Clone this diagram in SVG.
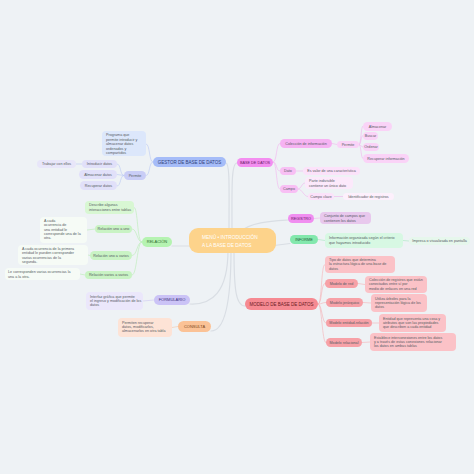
<svg xmlns="http://www.w3.org/2000/svg" width="474" height="474" viewBox="0 0 474 474">
<style>
text{font-family:"Liberation Sans","Open Sans",Arial,sans-serif;}
.m{font-size:4.5px;text-anchor:middle;}
.l{font-size:3.7px;fill:#555b63;}
.c{text-anchor:middle;}
.mc{fill:none;stroke:#d9dee4;stroke-width:1.2;stroke-linecap:round;}
.sc{fill:none;stroke-width:0.6;}
</style>
<rect width="474" height="474" fill="#eef2f5"/>
<g id="connectors">
<path class="mc" d="M229,232 C229,190 230,164 226,163"/>
<path class="mc" d="M232,232 C232,190 231,163 237,163"/>
<path class="mc" d="M240,232 C250,222 272,221 288,220"/>
<path class="mc" d="M270,246 L290,243.5"/>
<path class="mc" d="M234,250 C234,290 236,306 245,306"/>
<path class="mc" d="M195,246 L172,246"/>
<path class="mc" d="M228,250 C228,292 212,305 190,304"/>
<path class="mc" d="M231,250 C231,305 224,331 211,331"/>
<g stroke="#b9c8f3" class="sc">
<path class="sc" d="M153,162 C149,162 150,144 146,144"/>
<path class="sc" d="M153,162 C149,162 150,175.5 146,175.5"/>
<path class="sc" d="M124,175.5 C120,175.5 121,164 117,164"/>
<path class="sc" d="M124,175.5 L117,174.5"/>
<path class="sc" d="M124,175.5 C120,175.5 121,186 117,186"/>
<path class="sc" d="M82,164 L76,164"/>
</g>
<g stroke="#f2b3ef" class="sc">
<path class="sc" d="M273,162 C277,162 276,143.5 280,143.5"/>
<path class="sc" d="M273,162 C277,162 276,171 280,171"/>
<path class="sc" d="M273,162 C277,162 276,189 280,189"/>
<path class="sc" d="M332,143.5 L337,144.5"/>
<path class="sc" d="M359,144.5 C361,144.5 361,126 363,126"/>
<path class="sc" d="M359,144.5 C361,144.5 361,135.5 363,135.5"/>
<path class="sc" d="M359,144.5 C361,144.5 361,147 363,147"/>
<path class="sc" d="M359,144.5 C361,144.5 361,158.5 363,158.5"/>
<path class="sc" d="M296,171 L303,171"/>
<path class="sc" d="M298,189 C301,189 302,183 305,183"/>
<path class="sc" d="M298,189 C302,189 304,196.5 308,196.5"/>
<path class="sc" d="M334,196.5 L343,196.5"/>
<path class="sc" d="M314,218.5 L320,218"/>
</g>
<g stroke="#a6e8c0" class="sc">
<path class="sc" d="M318,239.5 L325,240.5"/>
<path class="sc" d="M403,240.5 L409,241"/>
</g>
<g stroke="#f5b0b5" class="sc">
<path class="sc" d="M318,304 C322,304 321,264.5 325,264.5"/>
<path class="sc" d="M318,304 C322,304 321,283.5 325,283.5"/>
<path class="sc" d="M318,304 C322,304 322,302.5 326,302.5"/>
<path class="sc" d="M318,304 C322,304 322,323 326,323"/>
<path class="sc" d="M318,304 C322,304 322,342.5 326,342.5"/>
<path class="sc" d="M358,283.5 L365,284.5"/>
<path class="sc" d="M363,302.5 L371,303"/>
<path class="sc" d="M372,323 L379,323"/>
<path class="sc" d="M362,342.5 L370,342"/>
</g>
<g stroke="#b9ecb4" class="sc">
<path class="sc" d="M142,242 C137,242 138,207.5 134,207.5"/>
<path class="sc" d="M142,242 C137,242 137,229 132,229"/>
<path class="sc" d="M142,242 C137,242 137,255.5 132,255.5"/>
<path class="sc" d="M142,242 C137,242 137,275 132,275"/>
<path class="sc" d="M95,229 L87,230"/>
<path class="sc" d="M90,255.5 L88,255"/>
<path class="sc" d="M85,275 L80,274"/>
</g>
<path class="sc" stroke="#cfc8f3" d="M154,300 L143,301"/>
<path class="sc" stroke="#f6c6a6" d="M178,326.5 L172,327.5"/>
</g>

<g id="central">
<rect x="189" y="228" width="87" height="25" rx="9" fill="#fdd38b"/>
<text x="202" y="238.5" font-size="4.8" fill="#ffffff">MENÚ • INTRODUCCIÓN</text>
<text x="202" y="246.5" font-size="4.8" fill="#ffffff">A LA BASE DE DATOS</text>
</g>

<g id="gestor">
<rect x="153" y="157" width="73" height="10" rx="5" fill="#a5bcf8"/>
<text class="m" x="189.5" y="163.6" fill="#2f3f7a">GESTOR DE BASE DE DATOS</text>
</g>
<g id="g-programa">
<rect x="102" y="131" width="44" height="25" rx="4" fill="#dce7fb"/>
<text class="l" x="106" y="136">Programa que</text>
<text class="l" x="106" y="140.5">permite introducir y</text>
<text class="l" x="106" y="145">almacenar datos</text>
<text class="l" x="106" y="149.5">ordenados y</text>
<text class="l" x="106" y="154">compartidos</text>
</g>
<g id="g-permite">
<rect x="124" y="171" width="22" height="9" rx="4.5" fill="#c9cdf6"/>
<text class="l c" x="135" y="176.8">Permite</text>
</g>
<g id="g-introducir">
<rect x="82" y="160" width="35" height="8" rx="4" fill="#e1e0f9"/>
<text class="l c" x="99.5" y="165.3">Introducir datos</text>
</g>
<g id="g-almacenar">
<rect x="79" y="170" width="38" height="9" rx="4.5" fill="#e1e0f9"/>
<text class="l c" x="98" y="175.8">Almacenar datos</text>
</g>
<g id="g-recuperar">
<rect x="80" y="181" width="37" height="9" rx="4.5" fill="#e1e0f9"/>
<text class="l c" x="98.5" y="186.8">Recuperar datos</text>
</g>
<g id="g-trabajar">
<rect x="37" y="160" width="39" height="8" rx="4" fill="#e8e6f9"/>
<text class="l c" x="56.5" y="165.3">Trabajar con ellos</text>
</g>

<g id="basedatos">
<rect x="237" y="158" width="36" height="9" rx="4.5" fill="#f38ef0"/>
<text class="c" x="255" y="164" font-size="3.8" fill="#6a1a66">BASE DE DATOS</text>
</g>
<g id="b-coleccion">
<rect x="280" y="139" width="52" height="9" rx="4.5" fill="#f6b2f2"/>
<text class="l c" x="306" y="144.8">Colección de información</text>
</g>
<g id="b-permite">
<rect x="337" y="141" width="22" height="7" rx="3.5" fill="#fad3f7"/>
<text class="l c" x="348" y="145.8">Permite</text>
</g>
<g id="b-almacenar">
<rect x="363" y="122" width="29" height="9" rx="4.5" fill="#fad3f7"/>
<text class="l c" x="377.5" y="127.8">Almacenar</text>
</g>
<g id="b-buscar">
<rect x="363" y="132" width="15" height="8" rx="4" fill="#fad3f7"/>
<text class="l c" x="370.5" y="137.3">Buscar</text>
</g>
<g id="b-ordenar">
<rect x="363" y="143" width="16" height="8" rx="4" fill="#fad3f7"/>
<text class="l c" x="371" y="148.3">Ordenar</text>
</g>
<g id="b-recuperar">
<rect x="363" y="154" width="46" height="9" rx="4.5" fill="#fad3f7"/>
<text class="l c" x="386" y="159.8">Recuperar información</text>
</g>
<g id="b-dato">
<rect x="280" y="167" width="16" height="8" rx="4" fill="#f8bff4"/>
<text class="l c" x="288" y="172.3">Dato</text>
</g>
<g id="b-esvalor">
<rect x="303" y="167" width="57" height="8" rx="4" fill="#fce2fa"/>
<text class="l c" x="331.5" y="172.3">Es valor de una característica</text>
</g>
<g id="b-campo">
<rect x="280" y="185" width="18" height="8" rx="4" fill="#f8bff4"/>
<text class="l c" x="289" y="190.3">Campo</text>
</g>
<g id="b-parte">
<rect x="305" y="177" width="48" height="12" rx="4" fill="#fce9fb"/>
<text class="l" x="309" y="182">Parte indivisible</text>
<text class="l" x="309" y="186.5">contiene un único dato</text>
</g>
<g id="b-campoclave">
<rect x="308" y="193" width="26" height="7" rx="3.5" fill="#fce2fa"/>
<text class="l c" x="321" y="197.8">Campo clave</text>
</g>
<g id="b-identificador">
<rect x="343" y="193" width="51" height="7" rx="3.5" fill="#fdf0fc"/>
<text class="l c" x="368.5" y="197.8">Identificador de registros</text>
</g>

<g id="registro">
<rect x="288" y="214" width="26" height="9" rx="4.5" fill="#f08ef0"/>
<text class="c" x="301" y="219.9" font-size="3.8" fill="#6a1a66">REGISTRO</text>
</g>
<g id="r-conjunto">
<rect x="320" y="212" width="51" height="12" rx="4" fill="#e8c8ed"/>
<text class="l" x="324" y="217">Conjunto de campos que</text>
<text class="l" x="324" y="221.5">contienen los datos</text>
</g>

<g id="informe">
<rect x="290" y="235" width="28" height="9" rx="4.5" fill="#83e8ad"/>
<text class="c" x="304" y="241" font-size="3.8" fill="#1f5e3a">INFORME</text>
</g>
<g id="i-informacion">
<rect x="325" y="233" width="78" height="15" rx="4" fill="#d7f8e3"/>
<text class="l" x="329" y="239">Información organizada según el criterio</text>
<text class="l" x="329" y="243.5">que hayamos introducido</text>
</g>
<g id="i-impresa">
<rect x="409" y="237" width="61" height="8" rx="4" fill="#e6f7ec"/>
<text class="l c" x="439.5" y="242.3">Impresa o visualizada en pantalla</text>
</g>

<g id="modelo">
<rect x="245" y="298" width="73" height="12" rx="6" fill="#f68a92"/>
<text class="m" x="281.5" y="305.6" fill="#6b1b22" font-size="4.3">MODELO DE BASE DE DATOS</text>
</g>
<g id="m-tipo">
<rect x="325" y="256" width="70" height="17" rx="4" fill="#fbc2c7"/>
<text class="l" x="329" y="261">Tipo de datos que determina</text>
<text class="l" x="329" y="265.3">la estructura lógica de una base de</text>
<text class="l" x="329" y="269.6">datos</text>
</g>
<g id="m-red">
<rect x="325" y="279" width="33" height="9" rx="4.5" fill="#f7a1a7"/>
<text class="l c" x="341.5" y="284.8">Modelo de red</text>
</g>
<g id="m-red-d">
<rect x="365" y="276" width="62" height="17" rx="4" fill="#fbc2c7"/>
<text class="l" x="369" y="281">Colección de registros que están</text>
<text class="l" x="369" y="285.3">conectados entre sí por</text>
<text class="l" x="369" y="289.6">medio de enlaces en una red</text>
</g>
<g id="m-jerarquico">
<rect x="326" y="298" width="37" height="9" rx="4.5" fill="#f7a1a7"/>
<text class="l c" x="344.5" y="303.8">Modelo jerárquico</text>
</g>
<g id="m-jerarquico-d">
<rect x="371" y="294" width="56" height="18" rx="4" fill="#fbc2c7"/>
<text class="l" x="375" y="299.5">Utiliza árboles para la</text>
<text class="l" x="375" y="303.8">representación lógica de los</text>
<text class="l" x="375" y="308.1">datos</text>
</g>
<g id="m-entidad">
<rect x="326" y="319" width="46" height="8" rx="4" fill="#f7a1a7"/>
<text class="l c" x="349" y="324.3">Modelo entidad-relación</text>
</g>
<g id="m-entidad-d">
<rect x="379" y="314" width="67" height="18" rx="4" fill="#fbc2c7"/>
<text class="l" x="383" y="319.5">Entidad que representa una cosa y</text>
<text class="l" x="383" y="323.8">atributos que son las propiedades</text>
<text class="l" x="383" y="328.1">que describen a cada entidad</text>
</g>
<g id="m-relacional">
<rect x="326" y="338" width="36" height="9" rx="4.5" fill="#f7a1a7"/>
<text class="l c" x="344" y="343.8">Modelo relacional</text>
</g>
<g id="m-relacional-d">
<rect x="370" y="333" width="86" height="18" rx="4" fill="#fbc2c7"/>
<text class="l" x="374" y="338.5">Establece interconexiones entre los datos</text>
<text class="l" x="374" y="342.8">y a través de estas conexiones relacionar</text>
<text class="l" x="374" y="347.1">los datos en ambas tablas</text>
</g>

<g id="relacion">
<rect x="142" y="237" width="30" height="10" rx="5" fill="#b5f3b1"/>
<text class="c" x="157" y="243.4" font-size="4" fill="#2e6b2e">RELACIÓN</text>
</g>
<g id="rel-describe">
<rect x="85" y="201" width="49" height="13" rx="4" fill="#d8f7d3"/>
<text class="l" x="89" y="206.3">Describe algunas</text>
<text class="l" x="89" y="210.8">interacciones entre tablas</text>
</g>
<g id="rel-uno-uno">
<rect x="95" y="225" width="37" height="8" rx="4" fill="#c9f3c4"/>
<text class="l c" x="113.5" y="230.3">Relación uno a uno</text>
</g>
<g id="rel-uno-uno-d">
<rect x="40" y="217" width="47" height="26" rx="4" fill="#f6fbf6"/>
<text class="l" x="44" y="222">A cada</text>
<text class="l" x="44" y="226.3">ocurrencia de</text>
<text class="l" x="44" y="230.6">una entidad le</text>
<text class="l" x="44" y="234.9">corresponde una de la</text>
<text class="l" x="44" y="239.2">otra.</text>
</g>
<g id="rel-uno-varios">
<rect x="90" y="251" width="42" height="9" rx="4.5" fill="#c9f3c4"/>
<text class="l c" x="111" y="256.8">Relación uno a varios</text>
</g>
<g id="rel-uno-varios-d">
<rect x="18" y="245" width="70" height="20" rx="4" fill="#f6fbf6"/>
<text class="l" x="22" y="250">A cada ocurrencia de la primera</text>
<text class="l" x="22" y="254.3">entidad le pueden corresponder</text>
<text class="l" x="22" y="258.6">varias ocurrencias de la</text>
<text class="l" x="22" y="262.9">segunda.</text>
</g>
<g id="rel-varios-varios">
<rect x="85" y="271" width="47" height="8" rx="4" fill="#c9f3c4"/>
<text class="l c" x="108.5" y="276.3">Relación varios a varios</text>
</g>
<g id="rel-varios-varios-d">
<rect x="5" y="268" width="75" height="12" rx="4" fill="#f6fbf6"/>
<text class="l" x="8" y="273">Le corresponden varias ocurrencias la</text>
<text class="l" x="8" y="277.5">una a la otra.</text>
</g>

<g id="formulario">
<rect x="154" y="295" width="36" height="10" rx="5" fill="#cbc3f6"/>
<text class="c" x="172" y="301.4" font-size="4" fill="#3b3380">FORMULARIO</text>
</g>
<g id="f-interfaz">
<rect x="86" y="292" width="57" height="18" rx="4" fill="#ebe7fb"/>
<text class="l" x="90" y="297.5">Interfaz gráfica que permite</text>
<text class="l" x="90" y="301.8">el ingreso y modificación de los</text>
<text class="l" x="90" y="306.1">datos</text>
</g>

<g id="consulta">
<rect x="178" y="321" width="33" height="11" rx="5.5" fill="#fbc296"/>
<text class="c" x="194.5" y="327.9" font-size="4" fill="#7a4318">CONSULTA</text>
</g>
<g id="c-permiten">
<rect x="118" y="318" width="54" height="19" rx="4" fill="#fde3d6"/>
<text class="l" x="122" y="323.5">Permiten recuperar</text>
<text class="l" x="122" y="327.8">datos, modificarlos,</text>
<text class="l" x="122" y="332.1">almacenarlos en otra tabla</text>
</g>
</svg>
